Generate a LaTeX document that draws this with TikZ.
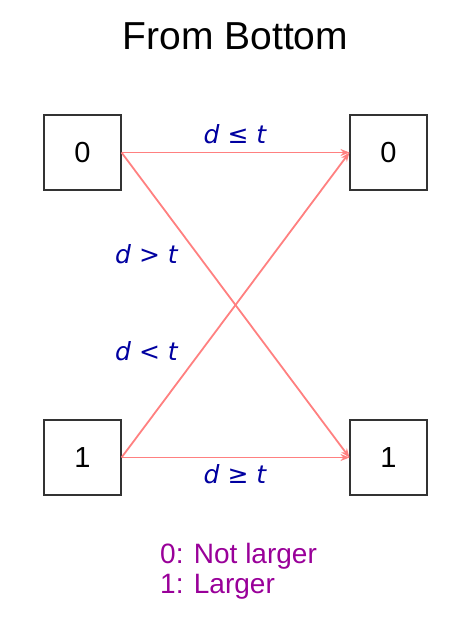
\documentclass[tikz,border=0pt]{standalone}
\usepackage{fontspec}
\setmainfont{Liberation Sans}
\newfontfamily\lblfont{DejaVu Sans}
\usepackage{tikz}
\usetikzlibrary{arrows.meta}
\definecolor{edgered}{RGB}{255,128,128}
\definecolor{lblblue}{RGB}{0,0,160}
\definecolor{keypurple}{RGB}{153,0,153}

\begin{document}
\begin{tikzpicture}[x=1pt,y=-1pt,
  cell/.style={draw=black!80,line width=1.1pt,minimum width=77pt,minimum height=75pt,inner sep=0pt,font=\fontsize{29}{29}\selectfont},
  trans/.style={draw=edgered,line width=1.8pt,-{Stealth[length=9pt,width=7pt]}},
  cond/.style={text=lblblue,anchor=base,font=\fontsize{25}{25}\selectfont\lblfont\itshape}]
\useasboundingbox (0,0) rectangle (467,627);
\node[anchor=base,font=\fontsize{39}{39}\selectfont] (title) at (235.5,49) {From Bottom};
\node[cell] (top0) at (82.5,152.5) {0};
\node[cell] (top1) at (388.5,152.5) {0};
\node[cell] (bot0) at (82.5,457.5) {1};
\node[cell] (bot1) at (388.5,457.5) {1};
\draw[trans] (top0.east)--(top1.west);
\draw[trans] (top0.east)--(bot1.west);
\draw[trans] (bot0.east)--(top1.west);
\draw[trans] (bot0.east)--(bot1.west);
\node[cond] (le) at (235,143) {d ≤ t};
\node[cond] (ge) at (235,483) {d ≥ t};
\node[cond,anchor=base west,inner sep=0pt] (gt) at (115,263) {d > t};
\node[cond,anchor=base west,inner sep=0pt] (lt) at (115,360) {d < t};
%\node (key) below of ge
\node[anchor=base west,inner sep=0pt,text=keypurple,align=left,font=\fontsize{28}{30}\selectfont] (key) at (160,593) {0: Not larger\\1: Larger};
\end{tikzpicture}
\end{document}
